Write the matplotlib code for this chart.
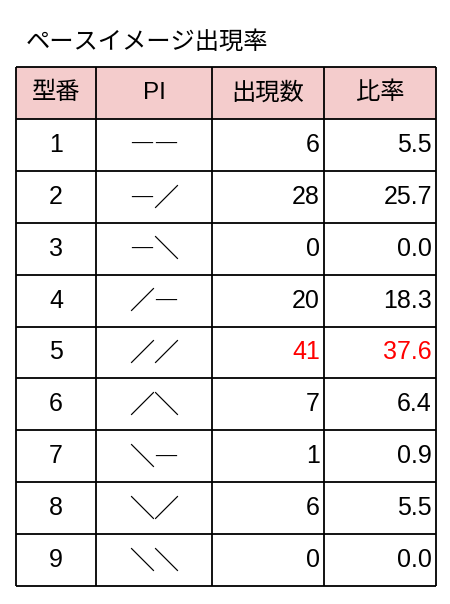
import matplotlib.pyplot as plt
from matplotlib.patches import Rectangle

# Table data
title = "ペースイメージ出現率"
headers = ["型番", "PI", "出現数", "比率"]
types = ["1", "2", "3", "4", "5", "6", "7", "8", "9"]
pace_images = ["――", "―／", "―＼", "／―", "／／", "／＼", "＼―", "＼／", "＼＼"]
counts = [6, 28, 0, 20, 41, 7, 1, 6, 0]
ratios = [5.5, 25.7, 0.0, 18.3, 37.6, 6.4, 0.9, 5.5, 0.0]
highlight = 4  # row index of the most frequent pattern

# Layout (pixels)
col_edges = [16, 96, 212, 324, 436]
top = 67
row_h = 51.9
fonts = ["Liberation Sans", "Noto Sans CJK JP"]

fig = plt.figure(figsize=(4.5, 6.04), dpi=100)
ax = fig.add_axes([0, 0, 1, 1])
ax.set_xlim(0, 450)
ax.set_ylim(604, 0)
ax.axis("off")

ax.text(26, 42, title, fontsize=17.5, family=["Noto Sans CJK JP"], va="center", ha="left")

n_rows = len(types) + 1
# header background
ax.add_patch(Rectangle((col_edges[0], top), col_edges[-1] - col_edges[0], row_h,
                       facecolor="#f4cccc", edgecolor="none", zorder=0))

# grid lines
bottom = top + row_h * n_rows
for x in col_edges:
    ax.plot([x, x], [top, bottom], color="black", lw=1.3, solid_capstyle="butt")
for r in range(n_rows + 1):
    y = top + r * row_h
    ax.plot([col_edges[0], col_edges[-1]], [y, y], color="black", lw=1.3, solid_capstyle="butt")

# header text
for c, h in enumerate(headers):
    xc = (col_edges[c] + col_edges[c + 1]) / 2
    ax.text(xc, top + row_h / 2, h, fontsize=17.5, family=fonts, ha="center", va="center")

# body
for i in range(len(types)):
    yc = top + row_h * (i + 1.5)
    color = "red" if i == highlight else "black"
    ax.text((col_edges[0] + col_edges[1]) / 2, yc, types[i], fontsize=18, family=fonts,
            ha="center", va="center")
    ax.text((col_edges[1] + col_edges[2]) / 2, yc + 1.5, pace_images[i], fontsize=18,
            family=["Noto Sans CJK JP"], fontweight="bold", ha="center", va="center")
    ax.text(col_edges[3] - 4, yc, str(counts[i]), fontsize=18, family=fonts,
            ha="right", va="center", color=color)
    ax.text(col_edges[4] - 4, yc, f"{ratios[i]:.1f}", fontsize=18, family=fonts,
            ha="right", va="center", color=color)

fig.savefig("out.png", dpi=100)
